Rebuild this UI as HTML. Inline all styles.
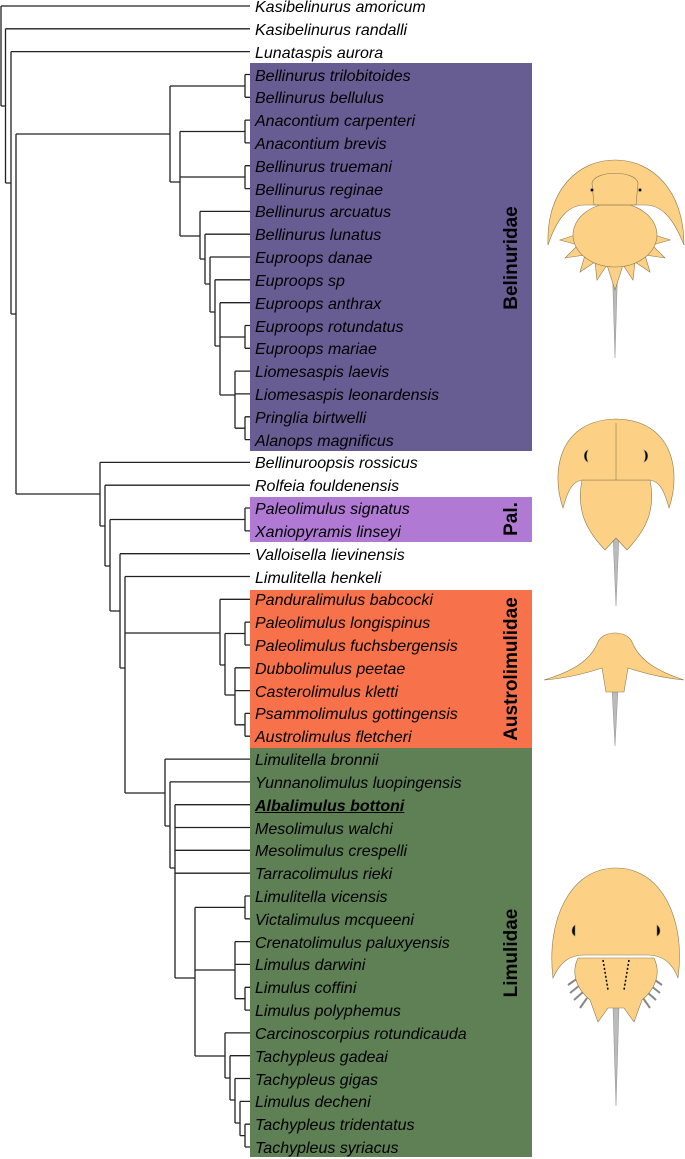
<!DOCTYPE html>
<html><head><meta charset="utf-8"><style>
html,body{margin:0;padding:0;background:#fff;}
#w{position:relative;width:685px;height:1159px;overflow:hidden;font-family:"Liberation Sans",sans-serif;}
.t{position:absolute;left:255px;font-size:16px;font-style:italic;color:#000;line-height:16px;height:16px;white-space:nowrap;margin-top:2px;}
.b{position:absolute;}
.cl{position:absolute;font-weight:bold;font-size:19px;color:#000;transform:rotate(-90deg);transform-origin:center;white-space:nowrap;text-align:center;}
svg{position:absolute;left:0;top:0;}
</style></head><body><div id="w">
<div class="b" style="left:250px;top:63px;width:282px;height:388px;background:#685d93"></div>
<div class="b" style="left:250px;top:497px;width:282px;height:45px;background:#b07ad4"></div>
<div class="b" style="left:250px;top:590px;width:282px;height:158px;background:#f7724a"></div>
<div class="b" style="left:250px;top:748px;width:282px;height:409px;background:#5f7f55"></div>
<svg width="685" height="1159" viewBox="0 0 685 1159">
<g fill="none" stroke="#222" stroke-width="1.3">
<path d="M1 6V106M1 6H250M1 106H5.5
M5.5 28.8V183M5.5 28.8H250M5.5 183H11
M11 51.6V314M11 51.6H250M11 314H16
M16 134V494M16 134H170M16 494H100
M170 86V182M170 86H245M245 74.5V97.3M245 74.5H250M245 97.3H250
M170 182H180M180 131.5V236M180 131.5H245M245 120.1V142.9M245 120.1H250M245 142.9H250
M180 177H245M245 165.7V188.6M245 165.7H250M245 188.6H250M180 236H200
M200 211.4V259M200 211.4H250M200 259H205
M205 234.2V284M205 234.2H250M205 284H210
M210 257V312M210 257H250M210 312H215
M215 279.8V346M215 279.8H250M215 346H220
M220 302.7V395M220 302.7H250M220 337H245M245 325.5V348.3M245 325.5H250M245 348.3H250M220 395H235
M235 371.1V428.2M235 371.1H250M235 393.9H250M235 428.2H245M245 416.8V439.6M245 416.8H250M245 439.6H250
M100 462.4V526M100 462.4H250M100 526H105
M105 485.2V566M105 485.2H250M105 566H110
M110 519.5V611M110 519.5H245M245 508V530.9M245 508H250M245 530.9H250M110 611H120
M120 553.7V668M120 553.7H250M120 668H125
M125 576.5V793M125 576.5H250M125 633H220M125 793H165
M220 599.3V665M220 599.3H250M220 665H225
M225 633.5V695M225 633.5H245M245 622.1V645M245 622.1H250M245 645H250M225 695H235
M235 667.8V724.8M235 667.8H250M235 690.6H250M235 724.8H245M245 713.4V736.2M245 713.4H250M245 736.2H250
M165 759.1V826M165 759.1H250M165 826H170
M170 781.9V868M170 781.9H250M170 868H175
M175 804.7V978M175 804.7H250M175 827.5H250M175 850.3H250M175 873.2H250M175 978H195
M195 907.4V1056M195 907.4H245M245 896V918.8M245 896H250M245 918.8H250M195 970H235M195 1056H225
M235 941.6V998.7M235 941.6H250M235 964.4H250M235 998.7H245M245 987.3V1010.1M245 987.3H250M245 1010.1H250
M225 1032.9V1078M225 1032.9H250M225 1078H230
M230 1055.7V1100M230 1055.7H250M230 1100H235
M235 1078.5V1123M235 1078.5H250M235 1123H240
M240 1101.4V1135.6M240 1101.4H250M240 1135.6H245M245 1124.2V1147M245 1124.2H250M245 1147H250"/>
</g>
<!-- crab 1 -->
<g stroke="#8a7a55" stroke-width="0.6" fill="#fdd185">
<polygon fill="#bbb" stroke="#999" points="612,255 618,255 615,358"/>
<path d="M575,235 L560,240 L578,245 L565,258 L585,255 L580,272 L595,262 L597,280 L607,265 L615,290 L623,265 L633,280 L635,262 L650,272 L645,255 L665,258 L652,245 L670,240 L655,235 Z"/>
<ellipse cx="615" cy="235" rx="42" ry="32"/>
<path d="M548,245 C546,190 578,160 615,160 C652,160 684,190 684,245 C672,215 660,205 645,205 L585,205 C570,205 558,215 548,245Z"/>
<path d="M592,183 C595,170 635,170 638,183 L636,205 L594,205Z" fill="none"/>
<circle cx="592" cy="190" r="1.5" fill="#000"/><circle cx="640" cy="190" r="1.5" fill="#000"/>
</g>
<!-- crab 2 -->
<g stroke="#8a7a55" stroke-width="0.6" fill="#fdd185">
<polygon fill="#bbb" stroke="#999" points="613,535 619,535 616,606"/>
<path d="M582,480 L650,480 C656,510 646,530 627,550 L616,538 L605,550 C586,530 576,510 582,480Z"/>
<path d="M563,508 C550,470 560,420 616,419 C672,420 682,470 669,508 C664,490 660,482 650,480 L582,480 C572,482 568,490 563,508Z"/>
<path d="M588,450 C583,452 583,460 588,462 C586,458 586,454 588,450Z" fill="#000"/>
<path d="M644,450 C649,452 649,460 644,462 C646,458 646,454 644,450Z" fill="#000"/>
<path d="M616,423 V480" fill="none"/>
</g>
<!-- crab 3 -->
<g stroke="#8a7a55" stroke-width="0.6" fill="#fdd185">
<polygon fill="#bbb" stroke="#999" points="612,688 618,688 615,746"/>
<path d="M544,680 C570,672 590,662 598,642 C603,630 627,630 632,642 C640,662 660,672 684,680 C660,678 640,672 628,668 L624,692 L606,692 L602,668 C590,672 570,678 544,680Z"/>
</g>
<!-- crab 4 -->
<g stroke="#8a7a55" stroke-width="0.6" fill="#fdd185">
<g stroke="#888" stroke-width="2"><path d="M578,978L568,985M580,985L570,993M583,992L574,1000M587,998L580,1008M652,978L662,985M650,985L660,993M647,992L656,1000M643,998L650,1008"/></g>
<polygon fill="#bbb" stroke="#999" points="613,1005 619,1005 616,1106"/>
<path d="M578,958 L654,958 C662,975 654,990 642,1000 L634,1022 L624,1008 L608,1008 L598,1022 L590,1000 C578,990 570,975 578,958Z"/>
<path d="M553,978 C546,920 570,868 616,868 C662,868 686,920 678,978 C672,962 662,955 648,955 L584,955 C570,955 560,962 553,978Z"/>
<path d="M575,925 C571,928 571,934 575,936Z" fill="#000"/><path d="M657,925 C661,928 661,934 657,936Z" fill="#000"/>
<path d="M603,960 L608,990 M629,960 L624,990" stroke="#000" stroke-width="1.5" stroke-dasharray="2,2" fill="none"/>
</g>
</svg>
<div class="cl" style="left:452px;top:247px;width:120px;height:22px;line-height:22px;">Belinuridae</div>
<div class="cl" style="left:487px;top:508px;width:50px;height:22px;line-height:22px;">Pal.</div>
<div class="cl" style="left:437px;top:658px;width:150px;height:22px;line-height:22px;">Austrolimulidae</div>
<div class="cl" style="left:452px;top:942px;width:120px;height:22px;line-height:22px;">Limulidae</div>
<div class="t" style="top:-2px">Kasibelinurus amoricum</div>
<div class="t" style="top:20.8px">Kasibelinurus randalli</div>
<div class="t" style="top:43.6px">Lunataspis aurora</div>
<div class="t" style="top:66.5px">Bellinurus trilobitoides</div>
<div class="t" style="top:89.3px">Bellinurus bellulus</div>
<div class="t" style="top:112.1px">Anacontium carpenteri</div>
<div class="t" style="top:134.9px">Anacontium brevis</div>
<div class="t" style="top:157.7px">Bellinurus truemani</div>
<div class="t" style="top:180.6px">Bellinurus reginae</div>
<div class="t" style="top:203.4px">Bellinurus arcuatus</div>
<div class="t" style="top:226.2px">Bellinurus lunatus</div>
<div class="t" style="top:249px">Euproops danae</div>
<div class="t" style="top:271.8px">Euproops sp</div>
<div class="t" style="top:294.7px">Euproops anthrax</div>
<div class="t" style="top:317.5px">Euproops rotundatus</div>
<div class="t" style="top:340.3px">Euproops mariae</div>
<div class="t" style="top:363.1px">Liomesaspis laevis</div>
<div class="t" style="top:385.9px">Liomesaspis leonardensis</div>
<div class="t" style="top:408.8px">Pringlia birtwelli</div>
<div class="t" style="top:431.6px">Alanops magnificus</div>
<div class="t" style="top:454.4px">Bellinuroopsis rossicus</div>
<div class="t" style="top:477.2px">Rolfeia fouldenensis</div>
<div class="t" style="top:500px">Paleolimulus signatus</div>
<div class="t" style="top:522.9px">Xaniopyramis linseyi</div>
<div class="t" style="top:545.7px">Valloisella lievinensis</div>
<div class="t" style="top:568.5px">Limulitella henkeli</div>
<div class="t" style="top:591.3px">Panduralimulus babcocki</div>
<div class="t" style="top:614.1px">Paleolimulus longispinus</div>
<div class="t" style="top:637px">Paleolimulus fuchsbergensis</div>
<div class="t" style="top:659.8px">Dubbolimulus peetae</div>
<div class="t" style="top:682.6px">Casterolimulus kletti</div>
<div class="t" style="top:705.4px">Psammolimulus gottingensis</div>
<div class="t" style="top:728.2px">Austrolimulus fletcheri</div>
<div class="t" style="top:751.1px">Limulitella bronnii</div>
<div class="t" style="top:773.9px">Yunnanolimulus luopingensis</div>
<div class="t" style="top:796.7px;font-weight:bold;text-decoration:underline">Albalimulus bottoni</div>
<div class="t" style="top:819.5px">Mesolimulus walchi</div>
<div class="t" style="top:842.3px">Mesolimulus crespelli</div>
<div class="t" style="top:865.2px">Tarracolimulus rieki</div>
<div class="t" style="top:888px">Limulitella vicensis</div>
<div class="t" style="top:910.8px">Victalimulus mcqueeni</div>
<div class="t" style="top:933.6px">Crenatolimulus paluxyensis</div>
<div class="t" style="top:956.4px">Limulus darwini</div>
<div class="t" style="top:979.3px">Limulus coffini</div>
<div class="t" style="top:1002.1px">Limulus polyphemus</div>
<div class="t" style="top:1024.9px">Carcinoscorpius rotundicauda</div>
<div class="t" style="top:1047.7px">Tachypleus gadeai</div>
<div class="t" style="top:1070.5px">Tachypleus gigas</div>
<div class="t" style="top:1093.4px">Limulus decheni</div>
<div class="t" style="top:1116.2px">Tachypleus tridentatus</div>
<div class="t" style="top:1139px">Tachypleus syriacus</div>
</div></body></html>
